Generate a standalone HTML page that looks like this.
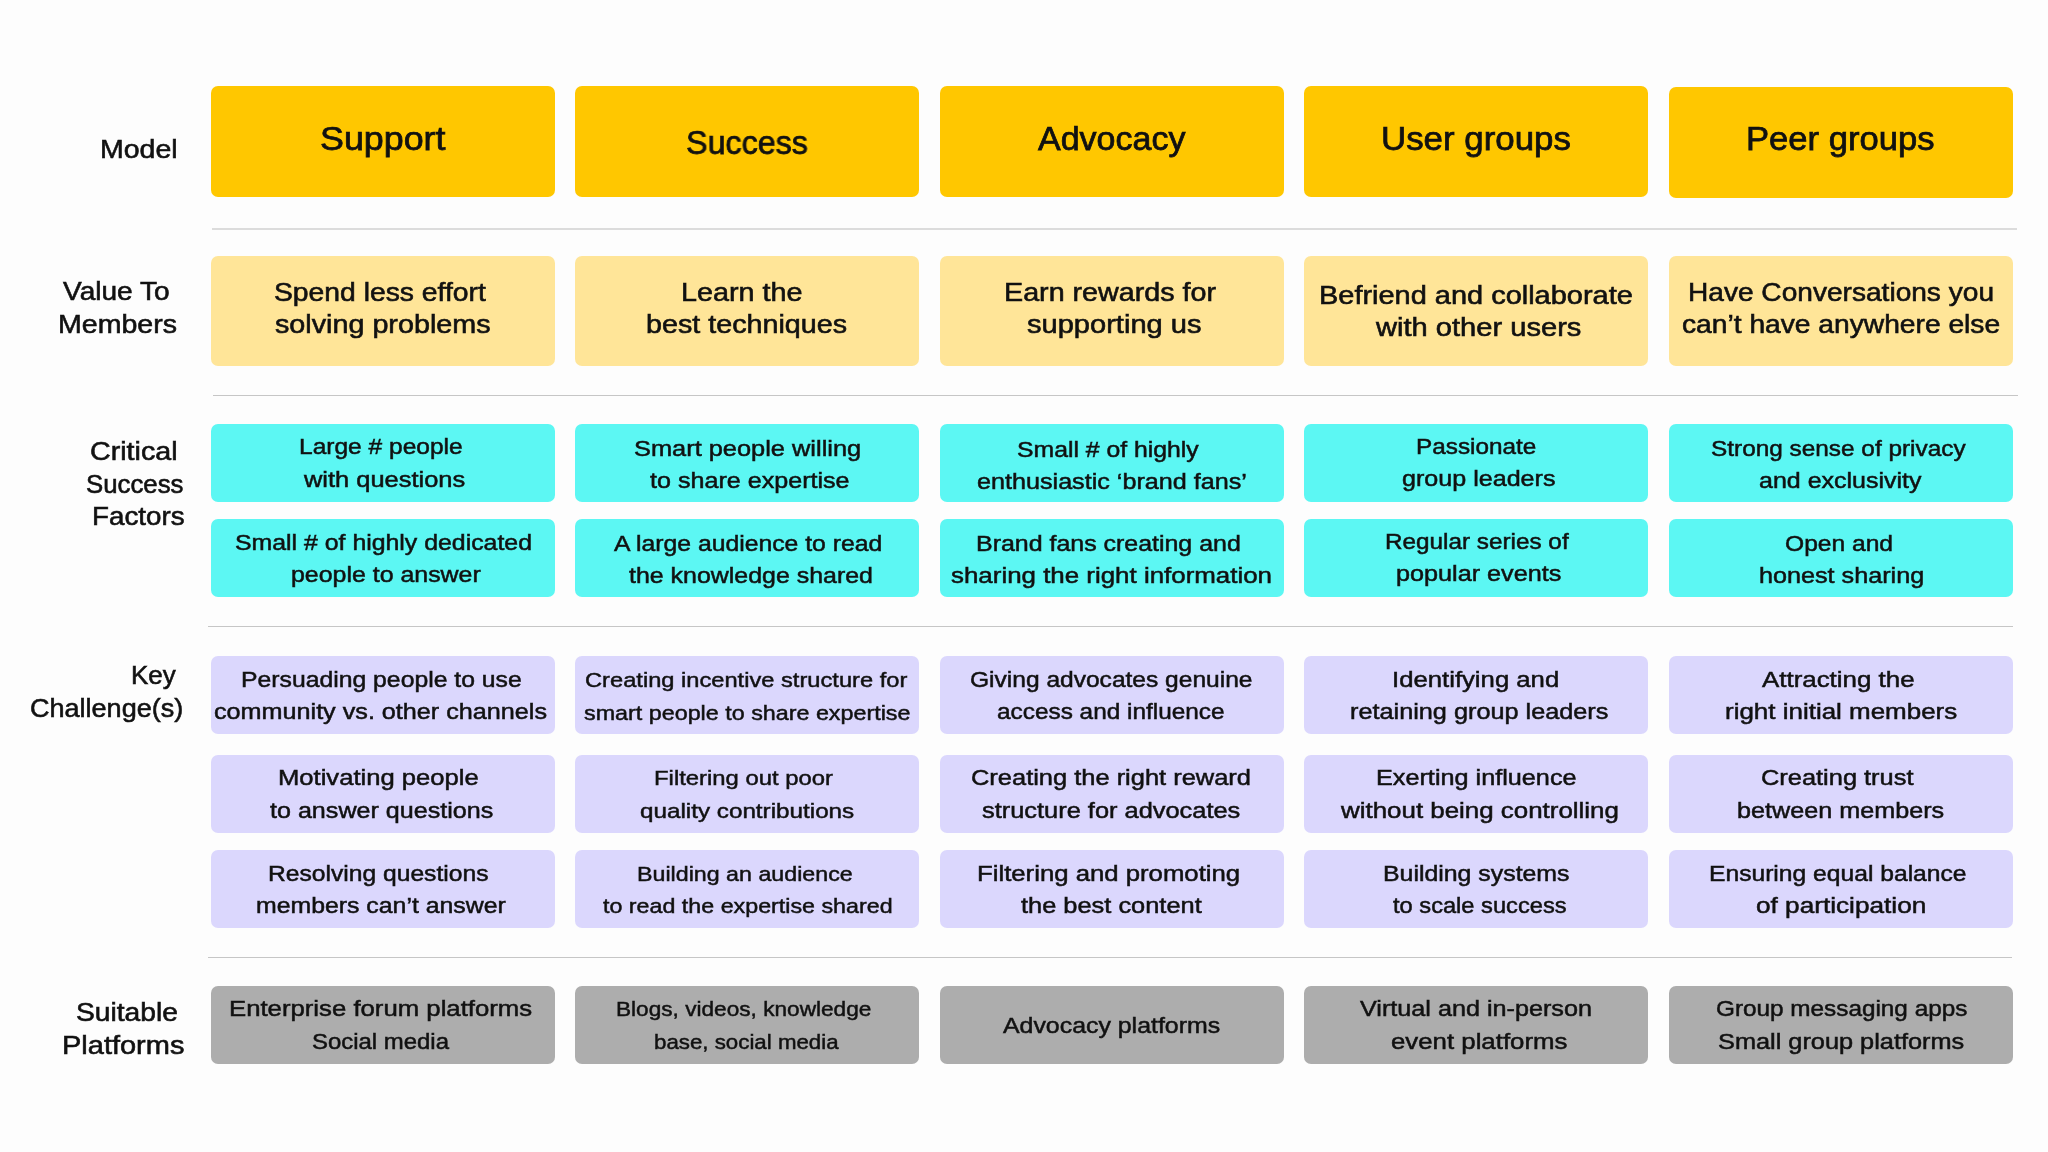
<!DOCTYPE html><html><head><meta charset="utf-8"><style>
html,body{margin:0;padding:0;width:2048px;height:1152px;overflow:hidden;background:#fdfdfd;}
body{position:relative;font-family:"Liberation Sans",sans-serif;color:#111111;}
.b{position:absolute;border-radius:7px;}
.t{position:absolute;white-space:nowrap;transform-origin:0 0;will-change:transform;-webkit-text-stroke:0.5px #111111;}
.l{position:absolute;height:1px;background:#c6c6c6;}
</style></head><body>
<div class="l" style="left:212px;top:228px;width:1805px;height:2px;background:#dcdcdc"></div>
<div class="l" style="left:213px;top:395px;width:1805px;"></div>
<div class="l" style="left:208px;top:626px;width:1805px;"></div>
<div class="l" style="left:208px;top:957px;width:1804px;"></div>
<div class="b" style="left:210.50px;top:86.00px;width:344.20px;height:111.40px;background:#ffc700"></div>
<div class="b" style="left:575.00px;top:86.00px;width:344.20px;height:111.40px;background:#ffc700"></div>
<div class="b" style="left:939.50px;top:86.00px;width:344.20px;height:111.40px;background:#ffc700"></div>
<div class="b" style="left:1304.00px;top:86.00px;width:344.20px;height:111.40px;background:#ffc700"></div>
<div class="b" style="left:1668.80px;top:86.90px;width:344.20px;height:111.60px;background:#ffc700"></div>
<div class="b" style="left:210.50px;top:256.00px;width:344.20px;height:110.00px;background:#ffe598"></div>
<div class="b" style="left:575.00px;top:256.00px;width:344.20px;height:110.00px;background:#ffe598"></div>
<div class="b" style="left:939.50px;top:256.00px;width:344.20px;height:110.00px;background:#ffe598"></div>
<div class="b" style="left:1304.00px;top:256.00px;width:344.20px;height:110.00px;background:#ffe598"></div>
<div class="b" style="left:1668.80px;top:256.00px;width:344.20px;height:110.00px;background:#ffe598"></div>
<div class="b" style="left:210.50px;top:424.00px;width:344.20px;height:78.00px;background:#5cf7f3"></div>
<div class="b" style="left:575.00px;top:424.00px;width:344.20px;height:78.00px;background:#5cf7f3"></div>
<div class="b" style="left:939.50px;top:424.00px;width:344.20px;height:78.00px;background:#5cf7f3"></div>
<div class="b" style="left:1304.00px;top:424.00px;width:344.20px;height:78.00px;background:#5cf7f3"></div>
<div class="b" style="left:1668.80px;top:424.00px;width:344.20px;height:78.00px;background:#5cf7f3"></div>
<div class="b" style="left:210.50px;top:518.70px;width:344.20px;height:78.50px;background:#5cf7f3"></div>
<div class="b" style="left:575.00px;top:518.70px;width:344.20px;height:78.50px;background:#5cf7f3"></div>
<div class="b" style="left:939.50px;top:518.70px;width:344.20px;height:78.50px;background:#5cf7f3"></div>
<div class="b" style="left:1304.00px;top:518.70px;width:344.20px;height:78.50px;background:#5cf7f3"></div>
<div class="b" style="left:1668.80px;top:518.70px;width:344.20px;height:78.50px;background:#5cf7f3"></div>
<div class="b" style="left:210.50px;top:656.00px;width:344.20px;height:78.00px;background:#dbd7fd"></div>
<div class="b" style="left:575.00px;top:656.00px;width:344.20px;height:78.00px;background:#dbd7fd"></div>
<div class="b" style="left:939.50px;top:656.00px;width:344.20px;height:78.00px;background:#dbd7fd"></div>
<div class="b" style="left:1304.00px;top:656.00px;width:344.20px;height:78.00px;background:#dbd7fd"></div>
<div class="b" style="left:1668.80px;top:656.00px;width:344.20px;height:78.00px;background:#dbd7fd"></div>
<div class="b" style="left:210.50px;top:755.00px;width:344.20px;height:77.70px;background:#dbd7fd"></div>
<div class="b" style="left:575.00px;top:755.00px;width:344.20px;height:77.70px;background:#dbd7fd"></div>
<div class="b" style="left:939.50px;top:755.00px;width:344.20px;height:77.70px;background:#dbd7fd"></div>
<div class="b" style="left:1304.00px;top:755.00px;width:344.20px;height:77.70px;background:#dbd7fd"></div>
<div class="b" style="left:1668.80px;top:755.00px;width:344.20px;height:77.70px;background:#dbd7fd"></div>
<div class="b" style="left:210.50px;top:850.20px;width:344.20px;height:77.80px;background:#dbd7fd"></div>
<div class="b" style="left:575.00px;top:850.20px;width:344.20px;height:77.80px;background:#dbd7fd"></div>
<div class="b" style="left:939.50px;top:850.20px;width:344.20px;height:77.80px;background:#dbd7fd"></div>
<div class="b" style="left:1304.00px;top:850.20px;width:344.20px;height:77.80px;background:#dbd7fd"></div>
<div class="b" style="left:1668.80px;top:850.20px;width:344.20px;height:77.80px;background:#dbd7fd"></div>
<div class="b" style="left:210.50px;top:986.00px;width:344.20px;height:78.00px;background:#adadad"></div>
<div class="b" style="left:575.00px;top:986.00px;width:344.20px;height:78.00px;background:#adadad"></div>
<div class="b" style="left:939.50px;top:986.00px;width:344.20px;height:78.00px;background:#adadad"></div>
<div class="b" style="left:1304.00px;top:986.00px;width:344.20px;height:78.00px;background:#adadad"></div>
<div class="b" style="left:1668.80px;top:986.00px;width:344.20px;height:78.00px;background:#adadad"></div>
<div class="t" style="left:320.25px;top:118.50px;font-size:33.2px;line-height:40px;transform:scaleX(1.0793);-webkit-text-stroke-width:0.75px">Support</div>
<div class="t" style="left:686.12px;top:122.50px;font-size:33.2px;line-height:40px;transform:scaleX(0.9723);-webkit-text-stroke-width:0.75px">Success</div>
<div class="t" style="left:1038.25px;top:118.50px;font-size:33.2px;line-height:40px;transform:scaleX(1.0249);-webkit-text-stroke-width:0.75px">Advocacy</div>
<div class="t" style="left:1381.00px;top:118.50px;font-size:33.2px;line-height:40px;transform:scaleX(1.0507);-webkit-text-stroke-width:0.75px">User groups</div>
<div class="t" style="left:1746.12px;top:118.50px;font-size:33.2px;line-height:40px;transform:scaleX(1.0424);-webkit-text-stroke-width:0.75px">Peer groups</div>
<div class="t" style="left:273.55px;top:277.09px;font-size:25.0px;line-height:30px;transform:scaleX(1.1315);-webkit-text-stroke-width:0.57px">Spend less effort</div>
<div class="t" style="left:275.25px;top:309.06px;font-size:25.0px;line-height:30px;transform:scaleX(1.1490);-webkit-text-stroke-width:0.57px">solving problems</div>
<div class="t" style="left:681.38px;top:277.09px;font-size:25.0px;line-height:30px;transform:scaleX(1.1506);-webkit-text-stroke-width:0.57px">Learn the</div>
<div class="t" style="left:645.56px;top:309.06px;font-size:25.0px;line-height:30px;transform:scaleX(1.1479);-webkit-text-stroke-width:0.57px">best techniques</div>
<div class="t" style="left:1004.12px;top:277.09px;font-size:25.0px;line-height:30px;transform:scaleX(1.1472);-webkit-text-stroke-width:0.57px">Earn rewards for</div>
<div class="t" style="left:1026.56px;top:309.06px;font-size:25.0px;line-height:30px;transform:scaleX(1.1624);-webkit-text-stroke-width:0.57px">supporting us</div>
<div class="t" style="left:1319.06px;top:280.34px;font-size:25.0px;line-height:30px;transform:scaleX(1.1578);-webkit-text-stroke-width:0.57px">Befriend and collaborate</div>
<div class="t" style="left:1376.45px;top:312.49px;font-size:25.0px;line-height:30px;transform:scaleX(1.1639);-webkit-text-stroke-width:0.57px">with other users</div>
<div class="t" style="left:1688.06px;top:277.09px;font-size:25.0px;line-height:30px;transform:scaleX(1.1235);-webkit-text-stroke-width:0.57px">Have Conversations you</div>
<div class="t" style="left:1682.44px;top:309.06px;font-size:25.0px;line-height:30px;transform:scaleX(1.1276);-webkit-text-stroke-width:0.57px">can’t have anywhere else</div>
<div class="t" style="left:298.98px;top:433.24px;font-size:22.1px;line-height:27px;transform:scaleX(1.1106);-webkit-text-stroke-width:0.50px">Large # people</div>
<div class="t" style="left:303.89px;top:465.74px;font-size:22.1px;line-height:27px;transform:scaleX(1.1512);-webkit-text-stroke-width:0.50px">with questions</div>
<div class="t" style="left:633.73px;top:434.54px;font-size:22.1px;line-height:27px;transform:scaleX(1.1490);-webkit-text-stroke-width:0.50px">Smart people willing</div>
<div class="t" style="left:650.27px;top:467.24px;font-size:22.1px;line-height:27px;transform:scaleX(1.1364);-webkit-text-stroke-width:0.50px">to share expertise</div>
<div class="t" style="left:1016.80px;top:435.94px;font-size:22.1px;line-height:27px;transform:scaleX(1.1211);-webkit-text-stroke-width:0.50px">Small # of highly</div>
<div class="t" style="left:976.80px;top:468.24px;font-size:22.1px;line-height:27px;transform:scaleX(1.1387);-webkit-text-stroke-width:0.50px">enthusiastic ‘brand fans’</div>
<div class="t" style="left:1416.08px;top:432.84px;font-size:22.1px;line-height:27px;transform:scaleX(1.1000);-webkit-text-stroke-width:0.50px">Passionate</div>
<div class="t" style="left:1402.45px;top:465.24px;font-size:22.1px;line-height:27px;transform:scaleX(1.1360);-webkit-text-stroke-width:0.50px">group leaders</div>
<div class="t" style="left:1710.53px;top:434.54px;font-size:22.1px;line-height:27px;transform:scaleX(1.1029);-webkit-text-stroke-width:0.50px">Strong sense of privacy</div>
<div class="t" style="left:1759.45px;top:467.24px;font-size:22.1px;line-height:27px;transform:scaleX(1.1308);-webkit-text-stroke-width:0.50px">and exclusivity</div>
<div class="t" style="left:234.97px;top:528.86px;font-size:22.1px;line-height:27px;transform:scaleX(1.1246);-webkit-text-stroke-width:0.50px">Small # of highly dedicated</div>
<div class="t" style="left:291.38px;top:560.94px;font-size:22.1px;line-height:27px;transform:scaleX(1.1275);-webkit-text-stroke-width:0.50px">people to answer</div>
<div class="t" style="left:613.50px;top:529.54px;font-size:22.1px;line-height:27px;transform:scaleX(1.1201);-webkit-text-stroke-width:0.50px">A large audience to read</div>
<div class="t" style="left:628.80px;top:562.14px;font-size:22.1px;line-height:27px;transform:scaleX(1.1284);-webkit-text-stroke-width:0.50px">the knowledge shared</div>
<div class="t" style="left:975.75px;top:529.54px;font-size:22.1px;line-height:27px;transform:scaleX(1.1286);-webkit-text-stroke-width:0.50px">Brand fans creating and</div>
<div class="t" style="left:951.25px;top:562.14px;font-size:22.1px;line-height:27px;transform:scaleX(1.1722);-webkit-text-stroke-width:0.50px">sharing the right information</div>
<div class="t" style="left:1384.58px;top:527.84px;font-size:22.1px;line-height:27px;transform:scaleX(1.0995);-webkit-text-stroke-width:0.50px">Regular series of</div>
<div class="t" style="left:1396.30px;top:560.14px;font-size:22.1px;line-height:27px;transform:scaleX(1.1409);-webkit-text-stroke-width:0.50px">popular events</div>
<div class="t" style="left:1784.55px;top:529.54px;font-size:22.1px;line-height:27px;transform:scaleX(1.1129);-webkit-text-stroke-width:0.50px">Open and</div>
<div class="t" style="left:1759.33px;top:562.14px;font-size:22.1px;line-height:27px;transform:scaleX(1.1397);-webkit-text-stroke-width:0.50px">honest sharing</div>
<div class="t" style="left:241.15px;top:665.86px;font-size:22.1px;line-height:27px;transform:scaleX(1.1203);-webkit-text-stroke-width:0.50px">Persuading people to use</div>
<div class="t" style="left:214.45px;top:698.24px;font-size:22.1px;line-height:27px;transform:scaleX(1.1395);-webkit-text-stroke-width:0.50px">community vs. other channels</div>
<div class="t" style="left:585.35px;top:667.46px;font-size:20.6px;line-height:25px;transform:scaleX(1.1493);-webkit-text-stroke-width:0.47px">Creating incentive structure for</div>
<div class="t" style="left:583.85px;top:700.16px;font-size:20.6px;line-height:25px;transform:scaleX(1.1318);-webkit-text-stroke-width:0.47px">smart people to share expertise</div>
<div class="t" style="left:970.25px;top:665.86px;font-size:22.1px;line-height:27px;transform:scaleX(1.1109);-webkit-text-stroke-width:0.50px">Giving advocates genuine</div>
<div class="t" style="left:997.42px;top:698.24px;font-size:22.1px;line-height:27px;transform:scaleX(1.1027);-webkit-text-stroke-width:0.50px">access and influence</div>
<div class="t" style="left:1392.33px;top:665.86px;font-size:22.1px;line-height:27px;transform:scaleX(1.1634);-webkit-text-stroke-width:0.50px">Identifying and</div>
<div class="t" style="left:1350.30px;top:698.24px;font-size:22.1px;line-height:27px;transform:scaleX(1.1434);-webkit-text-stroke-width:0.50px">retaining group leaders</div>
<div class="t" style="left:1762.30px;top:665.86px;font-size:22.1px;line-height:27px;transform:scaleX(1.1719);-webkit-text-stroke-width:0.50px">Attracting the</div>
<div class="t" style="left:1724.58px;top:698.24px;font-size:22.1px;line-height:27px;transform:scaleX(1.1748);-webkit-text-stroke-width:0.50px">right initial members</div>
<div class="t" style="left:278.18px;top:764.14px;font-size:22.1px;line-height:27px;transform:scaleX(1.1589);-webkit-text-stroke-width:0.50px">Motivating people</div>
<div class="t" style="left:270.48px;top:796.86px;font-size:22.1px;line-height:27px;transform:scaleX(1.1362);-webkit-text-stroke-width:0.50px">to answer questions</div>
<div class="t" style="left:654.02px;top:765.16px;font-size:20.6px;line-height:25px;transform:scaleX(1.1586);-webkit-text-stroke-width:0.47px">Filtering out poor</div>
<div class="t" style="left:639.62px;top:798.00px;font-size:20.6px;line-height:25px;transform:scaleX(1.1769);-webkit-text-stroke-width:0.47px">quality contributions</div>
<div class="t" style="left:971.40px;top:764.14px;font-size:22.1px;line-height:27px;transform:scaleX(1.1513);-webkit-text-stroke-width:0.50px">Creating the right reward</div>
<div class="t" style="left:982.25px;top:796.86px;font-size:22.1px;line-height:27px;transform:scaleX(1.1494);-webkit-text-stroke-width:0.50px">structure for advocates</div>
<div class="t" style="left:1376.33px;top:764.14px;font-size:22.1px;line-height:27px;transform:scaleX(1.1419);-webkit-text-stroke-width:0.50px">Exerting influence</div>
<div class="t" style="left:1340.86px;top:796.86px;font-size:22.1px;line-height:27px;transform:scaleX(1.1725);-webkit-text-stroke-width:0.50px">without being controlling</div>
<div class="t" style="left:1761.35px;top:764.14px;font-size:22.1px;line-height:27px;transform:scaleX(1.1496);-webkit-text-stroke-width:0.50px">Creating trust</div>
<div class="t" style="left:1737.38px;top:796.86px;font-size:22.1px;line-height:27px;transform:scaleX(1.1401);-webkit-text-stroke-width:0.50px">between members</div>
<div class="t" style="left:268.05px;top:859.86px;font-size:22.1px;line-height:27px;transform:scaleX(1.1149);-webkit-text-stroke-width:0.50px">Resolving questions</div>
<div class="t" style="left:256.48px;top:891.94px;font-size:22.1px;line-height:27px;transform:scaleX(1.1236);-webkit-text-stroke-width:0.50px">members can’t answer</div>
<div class="t" style="left:636.73px;top:860.96px;font-size:20.6px;line-height:25px;transform:scaleX(1.1279);-webkit-text-stroke-width:0.47px">Building an audience</div>
<div class="t" style="left:602.58px;top:893.46px;font-size:20.6px;line-height:25px;transform:scaleX(1.1293);-webkit-text-stroke-width:0.47px">to read the expertise shared</div>
<div class="t" style="left:977.05px;top:859.86px;font-size:22.1px;line-height:27px;transform:scaleX(1.1646);-webkit-text-stroke-width:0.50px">Filtering and promoting</div>
<div class="t" style="left:1020.75px;top:891.94px;font-size:22.1px;line-height:27px;transform:scaleX(1.1494);-webkit-text-stroke-width:0.50px">the best content</div>
<div class="t" style="left:1382.85px;top:859.86px;font-size:22.1px;line-height:27px;transform:scaleX(1.1250);-webkit-text-stroke-width:0.50px">Building systems</div>
<div class="t" style="left:1392.65px;top:891.94px;font-size:22.1px;line-height:27px;transform:scaleX(1.0706);-webkit-text-stroke-width:0.50px">to scale success</div>
<div class="t" style="left:1709.42px;top:859.86px;font-size:22.1px;line-height:27px;transform:scaleX(1.1153);-webkit-text-stroke-width:0.50px">Ensuring equal balance</div>
<div class="t" style="left:1756.05px;top:891.94px;font-size:22.1px;line-height:27px;transform:scaleX(1.1848);-webkit-text-stroke-width:0.50px">of participation</div>
<div class="t" style="left:229.30px;top:995.58px;font-size:21.7px;line-height:26px;transform:scaleX(1.1863);-webkit-text-stroke-width:0.49px">Enterprise forum platforms</div>
<div class="t" style="left:312.12px;top:1028.68px;font-size:21.7px;line-height:26px;transform:scaleX(1.1031);-webkit-text-stroke-width:0.49px">Social media</div>
<div class="t" style="left:616.30px;top:996.46px;font-size:20.6px;line-height:25px;transform:scaleX(1.0987);-webkit-text-stroke-width:0.47px">Blogs, videos, knowledge</div>
<div class="t" style="left:654.33px;top:1028.96px;font-size:20.6px;line-height:25px;transform:scaleX(1.0822);-webkit-text-stroke-width:0.47px">base, social media</div>
<div class="t" style="left:1003.35px;top:1012.67px;font-size:21.7px;line-height:26px;transform:scaleX(1.1472);-webkit-text-stroke-width:0.49px">Advocacy platforms</div>
<div class="t" style="left:1360.30px;top:995.58px;font-size:21.7px;line-height:26px;transform:scaleX(1.1613);-webkit-text-stroke-width:0.49px">Virtual and in-person</div>
<div class="t" style="left:1391.05px;top:1028.50px;font-size:21.7px;line-height:26px;transform:scaleX(1.1896);-webkit-text-stroke-width:0.49px">event platforms</div>
<div class="t" style="left:1715.85px;top:995.58px;font-size:21.7px;line-height:26px;transform:scaleX(1.1209);-webkit-text-stroke-width:0.49px">Group messaging apps</div>
<div class="t" style="left:1717.75px;top:1028.50px;font-size:21.7px;line-height:26px;transform:scaleX(1.1673);-webkit-text-stroke-width:0.49px">Small group platforms</div>
<div class="t" style="left:100.25px;top:133.61px;font-size:25.7px;line-height:31px;transform:scaleX(1.1094);-webkit-text-stroke-width:0.58px">Model</div>
<div class="t" style="left:63.37px;top:275.69px;font-size:25.7px;line-height:31px;transform:scaleX(1.0926);-webkit-text-stroke-width:0.58px">Value To</div>
<div class="t" style="left:58.15px;top:309.12px;font-size:25.7px;line-height:31px;transform:scaleX(1.1115);-webkit-text-stroke-width:0.58px">Members</div>
<div class="t" style="left:89.57px;top:435.69px;font-size:25.7px;line-height:31px;transform:scaleX(1.1151);-webkit-text-stroke-width:0.58px">Critical</div>
<div class="t" style="left:86.30px;top:468.61px;font-size:25.7px;line-height:31px;transform:scaleX(1.0039);-webkit-text-stroke-width:0.58px">Success</div>
<div class="t" style="left:91.50px;top:501.44px;font-size:25.7px;line-height:31px;transform:scaleX(1.0801);-webkit-text-stroke-width:0.58px">Factors</div>
<div class="t" style="left:131.03px;top:659.99px;font-size:25.7px;line-height:31px;transform:scaleX(1.0112);-webkit-text-stroke-width:0.58px">Key</div>
<div class="t" style="left:30.12px;top:692.59px;font-size:25.7px;line-height:31px;transform:scaleX(1.0519);-webkit-text-stroke-width:0.58px">Challenge(s)</div>
<div class="t" style="left:75.95px;top:996.84px;font-size:25.7px;line-height:31px;transform:scaleX(1.0983);-webkit-text-stroke-width:0.58px">Suitable</div>
<div class="t" style="left:61.99px;top:1029.59px;font-size:25.7px;line-height:31px;transform:scaleX(1.1281);-webkit-text-stroke-width:0.58px">Platforms</div>
</body></html>
